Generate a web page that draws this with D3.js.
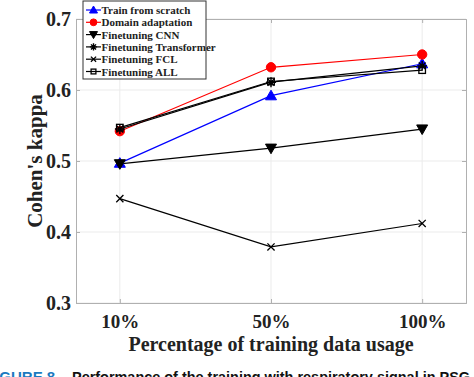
<!DOCTYPE html>
<html>
<head>
<meta charset="utf-8">
<script src="https://cdn.jsdelivr.net/npm/d3@7"></script>
<style>
  body { margin: 0; background: #fff; }
  svg { display: block; }
</style>
</head>
<body>
<svg id="chart"></svg>
<script>
const categories = ["10%", "50%", "100%"];
const yTicks = [0.3, 0.4, 0.5, 0.6, 0.7];

const trainScratch = [0.497, 0.592, 0.637];
const domainAdapt = [0.542, 0.632, 0.650];
const ftCNN = [0.496, 0.518, 0.545];
const ftTransformer = [0.545, 0.611, 0.634];
const ftFCL = [0.447, 0.379, 0.412];
const ftALL = [0.547, 0.612, 0.628];

const seriesNames = ["Train from scratch", "Domain adaptation", "Finetuning CNN",
  "Finetuning Transformer", "Finetuning FCL", "Finetuning ALL"];
const seriesValues = [trainScratch, domainAdapt, ftCNN, ftTransformer, ftFCL, ftALL];
const seriesColors = ["#0000ff", "#ff0000", "#000", "#000", "#000", "#000"];
const seriesMarkers = ["triUp", "circle", "triDown", "star", "cross", "square"];

const width = 474;
const height = 377;
const margin = { top: 19, right: 8, bottom: 74, left: 76 };

const svg = d3.select("#chart")
  .attr("width", width)
  .attr("height", height)
  .attr("viewBox", [0, 0, width, height]);

const x = d3.scalePoint()
  .domain(categories)
  .range([margin.left, width - margin.right])
  .padding(0.29);

const y = d3.scaleLinear()
  .domain([0.3, 0.7])
  .range([height - margin.bottom, margin.top]);

const serif = "'Liberation Serif', 'Times New Roman', serif";

// grid
svg.append("g")
  .selectAll("line")
  .data(yTicks)
  .join("line")
  .attr("x1", margin.left).attr("x2", width - margin.right)
  .attr("y1", d => y(d)).attr("y2", d => y(d))
  .attr("stroke", "#ebebeb");

svg.append("g")
  .selectAll("line")
  .data(categories)
  .join("line")
  .attr("x1", d => x(d)).attr("x2", d => x(d))
  .attr("y1", margin.top).attr("y2", height - margin.bottom)
  .attr("stroke", "#ebebeb");

// axes
const xAxis = svg.append("g")
  .attr("transform", `translate(0,${height - margin.bottom})`)
  .call(d3.axisBottom(x).tickSize(-4).tickPadding(12));

const yAxis = svg.append("g")
  .attr("transform", `translate(${margin.left},0)`)
  .call(d3.axisLeft(y).tickValues(yTicks).tickFormat(d3.format(".1f")).tickSize(-4).tickPadding(5));

svg.append("g")
  .attr("transform", `translate(${width - margin.right},0)`)
  .call(d3.axisRight(y).tickValues(yTicks).tickFormat("").tickSize(-4));

svg.append("g")
  .attr("transform", `translate(0,${margin.top})`)
  .call(d3.axisTop(x).tickFormat("").tickSize(-4));

svg.selectAll(".domain").attr("stroke", "#b0b0b0");
svg.selectAll(".tick line").attr("stroke", "#b0b0b0");

xAxis.selectAll("text")
  .attr("font-family", serif).attr("font-weight", "bold")
  .attr("font-size", 19).attr("fill", "#222");
yAxis.selectAll("text")
  .attr("font-family", serif).attr("font-weight", "bold")
  .attr("font-size", 20).attr("fill", "#222");

// axis titles
svg.append("text")
  .attr("x", x("50%"))
  .attr("y", 351)
  .attr("text-anchor", "middle")
  .attr("font-family", serif).attr("font-weight", "bold")
  .attr("font-size", 20).attr("fill", "#222")
  .text("Percentage of training data usage");

svg.append("text")
  .attr("transform", `translate(42,${(margin.top + height - margin.bottom) / 2}) rotate(-90)`)
  .attr("text-anchor", "middle")
  .attr("font-family", serif).attr("font-weight", "bold")
  .attr("font-size", 21).attr("fill", "#222")
  .text("Cohen's kappa");

// markers
function drawMarker(g, type, color, cx, cy, s) {
  if (type === "triUp") {
    g.append("path").attr("d", `M${cx},${cy - s}L${cx + s},${cy + s * 0.75}L${cx - s},${cy + s * 0.75}Z`)
      .attr("fill", color).attr("stroke", color);
  } else if (type === "triDown") {
    g.append("path").attr("d", `M${cx},${cy + s}L${cx + s},${cy - s * 0.75}L${cx - s},${cy - s * 0.75}Z`)
      .attr("fill", color).attr("stroke", color);
  } else if (type === "circle") {
    g.append("circle").attr("cx", cx).attr("cy", cy).attr("r", s * 0.85)
      .attr("fill", color).attr("stroke", color);
  } else if (type === "star") {
    const r = s * 0.9;
    g.append("path")
      .attr("d", `M${cx - r},${cy}L${cx + r},${cy}M${cx},${cy - r}L${cx},${cy + r}` +
        `M${cx - r * 0.7},${cy - r * 0.7}L${cx + r * 0.7},${cy + r * 0.7}` +
        `M${cx - r * 0.7},${cy + r * 0.7}L${cx + r * 0.7},${cy - r * 0.7}`)
      .attr("stroke", color).attr("stroke-width", 1.4).attr("fill", "none");
  } else if (type === "cross") {
    const r = s * 0.65;
    g.append("path")
      .attr("d", `M${cx - r},${cy - r}L${cx + r},${cy + r}M${cx - r},${cy + r}L${cx + r},${cy - r}`)
      .attr("stroke", color).attr("stroke-width", 1.3).attr("fill", "none");
  } else if (type === "square") {
    const r = s * 0.6;
    g.append("rect").attr("x", cx - r).attr("y", cy - r).attr("width", 2 * r).attr("height", 2 * r)
      .attr("fill", "none").attr("stroke", color).attr("stroke-width", 1.3);
  }
}

const line = d3.line()
  .x((d, i) => x(categories[i]))
  .y(d => y(d));

const plot = svg.append("g");
seriesValues.forEach((vals, k) => {
  plot.append("path")
    .datum(vals)
    .attr("d", line)
    .attr("fill", "none")
    .attr("stroke", seriesColors[k])
    .attr("stroke-width", 1.2);
});
seriesValues.forEach((vals, k) => {
  vals.forEach((v, i) => {
    drawMarker(plot, seriesMarkers[k], seriesColors[k], x(categories[i]), y(v), 5.5);
  });
});

// legend
const legend = svg.append("g");
legend.append("rect")
  .attr("x", 83).attr("y", 1)
  .attr("width", 123).attr("height", 78)
  .attr("fill", "#fff").attr("stroke", "#333").attr("stroke-width", 1);

seriesNames.forEach((name, k) => {
  const ly = 10 + k * 12.3;
  legend.append("line")
    .attr("x1", 86).attr("x2", 101)
    .attr("y1", ly).attr("y2", ly)
    .attr("stroke", seriesColors[k]).attr("stroke-width", 1.2);
  drawMarker(legend, seriesMarkers[k], seriesColors[k], 93.5, ly, 4);
  legend.append("text")
    .attr("x", 101.5).attr("y", ly + 4)
    .attr("font-family", serif).attr("font-weight", "bold")
    .attr("font-size", 11).attr("fill", "#222")
    .text(name);
});

// caption (cut at bottom edge, as in the source page)
const cap = svg.append("text")
  .attr("x", -14).attr("y", 382)
  .attr("font-family", "'Liberation Sans', Arial, sans-serif")
  .attr("font-weight", "bold").attr("font-size", 15);
cap.append("tspan").attr("fill", "#1b7ac0").text("FIGURE 8.");
cap.append("tspan").attr("x", 72).attr("fill", "#111")
  .attr("textLength", 398).attr("lengthAdjust", "spacingAndGlyphs")
  .text("Performance of the training with respiratory signal in PSG");
</script>
</body>
</html>
